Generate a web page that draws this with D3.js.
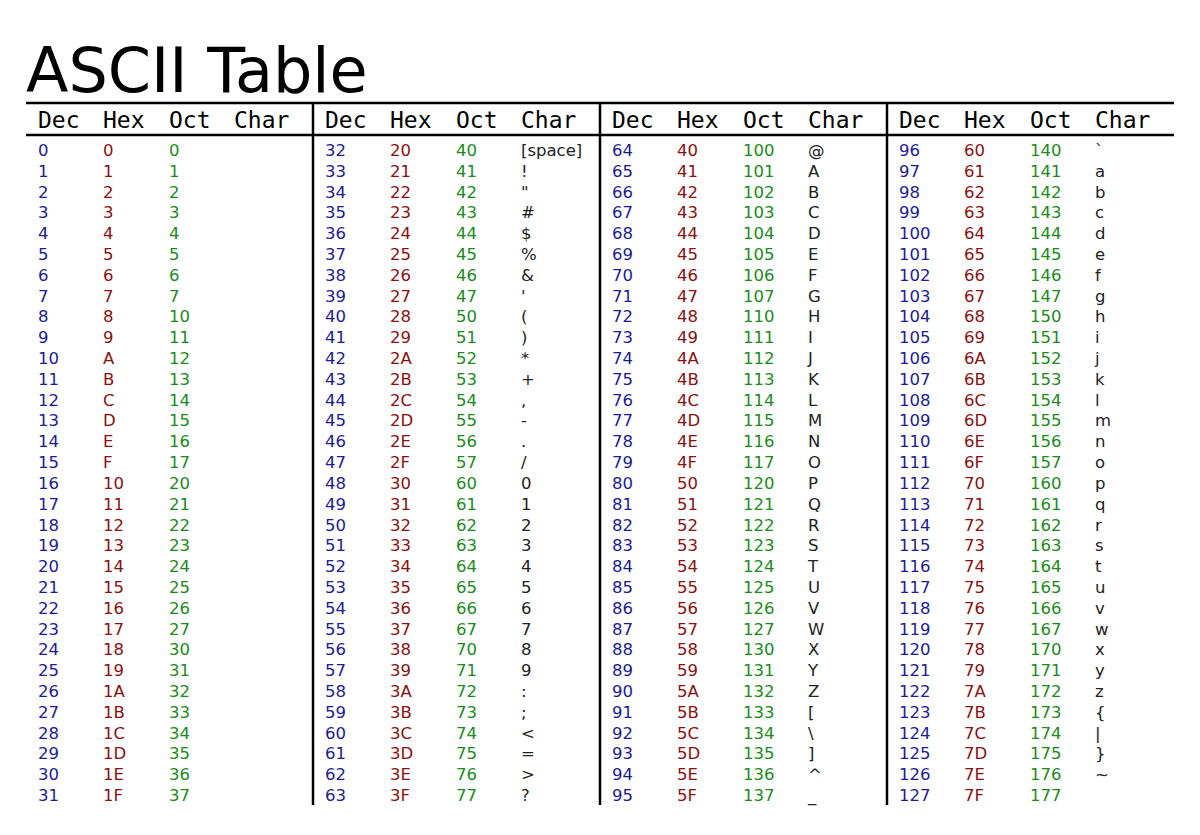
<!DOCTYPE html><html><head><meta charset="utf-8"><script src="https://cdn.jsdelivr.net/npm/d3@7"></script>
<style>body{margin:0;background:#fff}</style></head><body><svg id="c" width="1200" height="835"></svg>
<script>
const title = "ASCII Table";
const headers = ["Dec","Hex","Oct","Char"];
const codes = d3.range(0,128);
const chars = ["","","","","","","","","","","","","","","","","","","","","","","","","","","","","","","","",
"[space]","!","\"","#","$","%","&","'","(",")","*","+",",","-",".","/","0","1","2","3","4","5","6","7","8","9",":",";","<","=",">","?",
"@","A","B","C","D","E","F","G","H","I","J","K","L","M","N","O","P","Q","R","S","T","U","V","W","X","Y","Z","[","\\","]","^","_",
"`","a","b","c","d","e","f","g","h","i","j","k","l","m","n","o","p","q","r","s","t","u","v","w","x","y","z","{","|","}","~",""];
const colColors = ["#1c1c96","#8c1010","#1a8c1a","#222"];

const svg = d3.select("#c");
const blockX = d3.scaleLinear().domain([0,4]).range([26,1174]);
const colOff = d3.scaleOrdinal().domain(headers).range([12,77,143,208]);
const rowY = d3.scaleLinear().domain([0,31]).range([150,795]);

svg.append("text").attr("x",26).attr("y",92).attr("font-family","DejaVu Sans").attr("font-size",62).text(title);
svg.append("line").attr("x1",26).attr("x2",1174).attr("y1",103).attr("y2",103).attr("stroke","#000").attr("stroke-width",2.5);
svg.append("line").attr("x1",26).attr("x2",1174).attr("y1",135).attr("y2",135).attr("stroke","#000").attr("stroke-width",2.5);
[1,2,3].forEach(b=>svg.append("line").attr("x1",blockX(b)).attr("x2",blockX(b)).attr("y1",103).attr("y2",805).attr("stroke","#000").attr("stroke-width",2.5));

for(let b=0;b<4;b++){
  headers.forEach(h=>svg.append("text").attr("x",blockX(b)+colOff(h)).attr("y",128)
    .attr("font-family","DejaVu Sans Mono").attr("font-size",23).text(h));
  const g = svg.append("g");
  const rows = codes.slice(b*32,b*32+32);
  const fmt = [d=>String(d), d=>d.toString(16).toUpperCase(), d=>d.toString(8), d=>chars[d]];
  headers.forEach((h,i)=>{
    g.selectAll(null).data(rows).enter().append("text")
      .attr("x",blockX(b)+colOff(h)).attr("y",(d)=>rowY(d-b*32)+6)
      .attr("font-family","DejaVu Sans").attr("font-size",16.5).attr("fill",colColors[i])
      .text(fmt[i]);
  });
}
</script></body></html>
